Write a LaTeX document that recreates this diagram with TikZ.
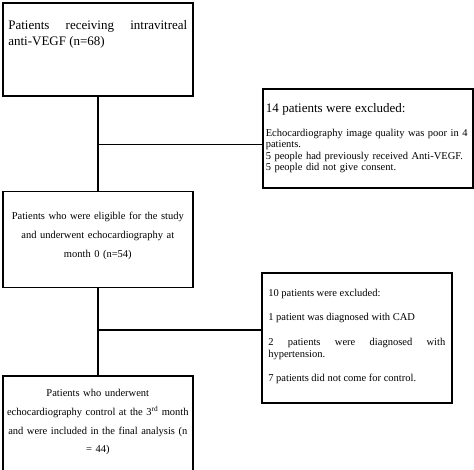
\documentclass[tikz,border=0pt]{standalone}
\usepackage{fontspec}
\setmainfont{Liberation Serif}
\usetikzlibrary{positioning,calc}
\hyphenpenalty=10000
\exhyphenpenalty=10000

\begin{document}
\begin{tikzpicture}[x=1bp,y=-1bp,
  box/.style={draw,rectangle,line width=1.6bp,inner sep=0pt,minimum width=190bp,
    font=\fontsize{10.5bp}{12bp}\selectfont},
  link/.style={line width=1.5bp}]
\useasboundingbox[fill=white] (0,0) rectangle (474,470);

% Main flow
\node[box,anchor=north west,minimum height=93bp,text width=179bp,align=justify,
  font=\fontsize{13bp}{15.5bp}\selectfont] (a) at (2,2)
  {Patients receiving intravitreal anti-VEGF (n=68)\rule[-33bp]{0pt}{1bp}};
\node[box,below=94bp of a,minimum height=96bp,text width=180bp,align=center,
  font=\fontsize{10.5bp}{19bp}\selectfont] (c)
  {Patients who were eligible for the study\\ and underwent echocardiography at\\
   month 0 (n=54)\rule[-10bp]{0pt}{1bp}};
\node[box,below=87bp of c,minimum height=96bp,text width=182bp,align=center,
  font=\fontsize{10.5bp}{18.7bp}\selectfont] (e)
  {Patients who underwent\\ echocardiography control at the 3\textsuperscript{rd} month\\
   and were included in the final analysis (n\\ = 44)\rule[-6bp]{0pt}{1bp}};

% Exclusions
\node[box,anchor=north west,minimum width=210bp,minimum height=99bp,text width=204bp,align=left,
  font=\fontsize{10.5bp}{11.5bp}\selectfont] (b) at (262,88)
  {{\fontsize{13bp}{15bp}\selectfont 14 patients were excluded:}\\[12.5bp]
   Echocardiography image quality was poor in 4\\ patients.\\
   5 people had previously received Anti-VEGF.\\
   5 people did not give consent.};
\node[box,anchor=north west,minimum height=130bp,text width=177bp,align=justify] (d) at (261,272)
  {10 patients were excluded:\\[12.5bp]
   1 patient was diagnosed with CAD\\[12.5bp]
   2 patients were diagnosed with hypertension.\\[12.5bp]
   7 patients did not come for control.\rule[-5bp]{0pt}{1bp}};

\draw[link] (a.south) -- (c.north);
\draw[link] (c.south) -- (e.north);

\coordinate (j1) at ($(a.south)!0.51!(c.north)$);
\coordinate (j2) at ($(c.south)!0.48!(e.north)$);
\draw[link] (j1) -- (j1 -| b.west);
\draw[link] (j2) -- (j2 -| d.west);
\end{tikzpicture}
\end{document}
